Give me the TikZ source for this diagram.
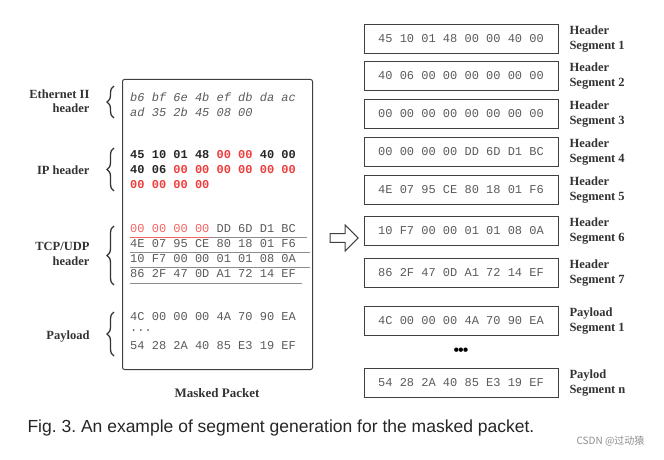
\documentclass[tikz,border=0pt]{standalone}
\usepackage{fontspec}
\setmainfont{Liberation Serif}
\newfontfamily\monof{Liberation Mono}
\newfontfamily\sansf{Liberation Sans}
\newfontfamily\cjk{Noto Sans CJK SC}
\usetikzlibrary{decorations.pathreplacing,shapes.arrows}
\definecolor{hex}{RGB}{90,90,90}
\definecolor{redh}{RGB}{240,60,60}
\begin{document}
\frenchspacing
\begin{tikzpicture}[x=1pt,y=-1pt,
  hx/.style={font=\monof\fontsize{12}{12}\selectfont,text=hex,anchor=west,inner sep=0},
  lab/.style={font=\bfseries\fontsize{12.5}{14.5}\selectfont,align=right,anchor=east,text=black!80},
  seg/.style={draw=black!75,line width=1pt,minimum width=194pt,minimum height=29pt,font=\monof\fontsize{12}{12}\selectfont,text=hex},
  slab/.style={font=\bfseries\fontsize{12.5}{14.5}\selectfont,align=left,anchor=west,text=black!80},
  br/.style={decorate,decoration={brace,amplitude=7pt},line width=1.3pt,draw=black!80}]
\useasboundingbox (0,0) rectangle (664,460);
\node[draw=black!75,line width=1pt,rounded corners=2pt,minimum width=190pt,minimum height=290pt,anchor=north west] (box) at (122,79) {};
% ethernet
\node[hx,font=\monof\itshape\fontsize{12}{12}\selectfont] (e1) at (130,97) {b6 bf 6e 4b ef db da ac};
\node[hx,font=\monof\itshape\fontsize{12}{12}\selectfont] (e2) at (130,112) {ad 35 2b 45 08 00};
% IP
\node[hx,font=\monof\bfseries\fontsize{12}{12}\selectfont,text=black!85] (i1) at (130,155) {45 10 01 48 \textcolor{redh}{00 00} 40 00};
\node[hx,font=\monof\bfseries\fontsize{12}{12}\selectfont,text=black!85] (i2) at (130,170) {40 06 \textcolor{redh}{00 00 00 00 00 00}};
\node[hx,font=\monof\bfseries\fontsize{12}{12}\selectfont,text=redh] (i3) at (130,185) {00 00 00 00};
% TCP
\node[hx] (t1) at (130,229) {\textcolor{redh!80}{00 00 00 00} DD 6D D1 BC};
\node[hx] (t2) at (130,244) {4E 07 95 CE 80 18 01 F6};
\node[hx] (t3) at (130,259) {10 F7 00 00 01 01 08 0A};
\node[hx] (t4) at (130,274) {86 2F 47 0D A1 72 14 EF};
\draw[redh!80,line width=1pt] (130,237) -- (210,237);
\draw[black!45,line width=1pt] (210,237) -- (307,237);
\draw[black!45,line width=1pt] (130,252) -- (310,252);
\draw[black!45,line width=1pt] (130,267) -- (310,267);
\draw[black!45,line width=1pt] (130,283) -- (302,283);
% payload
\node[hx] (p1) at (130,317) {4C 00 00 00 4A 70 90 EA};
\node[hx] (p2) at (130,331) {...};
\node[hx] (p3) at (130,346) {54 28 2A 40 85 E3 19 EF};
% braces
\draw[br] (114,118) -- (114,86);
\draw[br] (114,191) -- (114,148);
\draw[br] (114,285) -- (114,226);
\draw[br] (114,356) -- (114,312);
\node[lab] (le) at (93,101) {Ethernet II\\header};
\node[lab] (li) at (93,170) {IP header};
\node[lab] (lt) at (93,254) {TCP/UDP\\header};
\node[lab] (lp) at (93,337) {Payload};
\node[font=\bfseries\fontsize{13}{14}\selectfont,text=black!80] (mp) at (217,393) {Masked Packet};
% arrow
\node[single arrow,draw=black!75,line width=1pt,minimum height=28pt,minimum width=26pt,single arrow head extend=5pt,inner sep=2pt] (arr) at (342,238) {};
% segments
\foreach \n/\y/\t/\a/\b in {1/39/45 10 01 48 00 00 40 00/Header/Segment 1,
  2/76/40 06 00 00 00 00 00 00/Header/Segment 2,
  3/114/00 00 00 00 00 00 00 00/Header/Segment 3,
  4/152/00 00 00 00 DD 6D D1 BC/Header/Segment 4,
  5/190/4E 07 95 CE 80 18 01 F6/Header/Segment 5,
  6/231/10 F7 00 00 01 01 08 0A/Header/Segment 6,
  7/273/86 2F 47 0D A1 72 14 EF/Header/Segment 7,
  8/321/4C 00 00 00 4A 70 90 EA/Payload/Segment 1,
  9/383/54 28 2A 40 85 E3 19 EF/Paylod/Segment n}{
  \node[seg] (s\n) at (461,\y) {\t};
  \node[slab] (sl\n) at (566,\y) {\a\\\b};
}
\node[font=\bfseries\fontsize{16}{16}\selectfont] (dots) at (461,352) {\textbullet\kern-1pt\textbullet\kern-1pt\textbullet};
\node[font=\sansf\fontsize{17.5}{18}\selectfont,anchor=west,text=black!85] (cap) at (24,428) {Fig. 3. An example of segment generation for the masked packet.};
\node[font=\cjk\fontsize{10}{11}\selectfont,anchor=east,text=black!45] (wm) at (648,441) {CSDN @过动猿};
\end{tikzpicture}
\end{document}
